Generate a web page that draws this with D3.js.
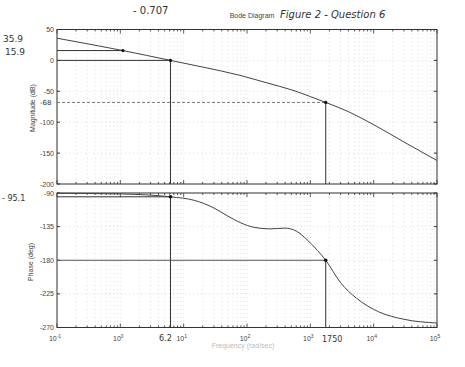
<!DOCTYPE html>
<html><head><meta charset="utf-8">
<script src="https://cdn.jsdelivr.net/npm/d3@7"></script>
<style>body{margin:0;background:#fff}svg{display:block}</style>
</head><body>
<svg id="c" width="465" height="367"></svg>
<script>
// ---- data ----
const magFreq = [0.1, 1.1, 6.2, 20, 77.6, 200, 532, 1000, 1750, 4000, 10000, 30000, 100000];
const magDB   = [35.9, 15.9, 0, -10.8, -24.2, -36, -48.4, -58.5, -68, -83, -104, -132, -162];
const phFreq  = [0.1, 1, 6.2, 15, 30, 50, 80, 130, 230, 400, 600, 900, 1300, 1750, 3000, 5400, 12000, 30000, 100000];
const phDeg   = [-90.4, -91.3, -95.1, -100, -110, -121, -130, -136, -138, -137, -141, -153, -167, -180, -210, -231, -249, -259, -264];
const magTicks = [50, 0, -50, -100, -150, -200];
const phTicks = [-90, -135, -180, -225, -270];
const xDecades = [-1, 0, 1, 2, 3, 4, 5];
const marksMag = [{f:1.1, v:15.9}, {f:6.2, v:0}, {f:1750, v:-68}];
const marksPh = [{f:6.2, v:-95.1}, {f:1750, v:-180}];

const svg = d3.select("#c");
const L = 57, R = 437;
const x = d3.scaleLog().domain([0.1, 1e5]).range([L, R]);
const yM = d3.scaleLinear().domain([-200, 50]).range([184, 29.5]);
const yP = d3.scaleLinear().domain([-270, -90]).range([327.5, 193]);
const ink = "#333";

function panel(y, ticks) {
  const g = svg.append("g");
  const [y0, y1] = y.range();
  const minors = [];
  for (let d = -1; d < 5; d++) for (let k = 1; k <= 9; k++) minors.push(k * Math.pow(10, d));
  minors.push(1e5);
  g.selectAll(".gx").data(minors).join("line")
    .attr("x1", d => x(d)).attr("x2", d => x(d)).attr("y1", y1).attr("y2", y0)
    .attr("stroke", "#c8c8c8").attr("stroke-width", 0.6).attr("stroke-dasharray", "1,3");
  g.selectAll(".gy").data(ticks).join("line")
    .attr("x1", L).attr("x2", R).attr("y1", d => y(d)).attr("y2", d => y(d))
    .attr("stroke", "#c8c8c8").attr("stroke-width", 0.6).attr("stroke-dasharray", "1,3");
  g.append("rect").attr("x", L).attr("y", y1).attr("width", R - L).attr("height", y0 - y1)
    .attr("fill", "none").attr("stroke", ink).attr("stroke-width", 1);
  ticks.forEach(t => {
    g.append("line").attr("x1", L).attr("x2", L + 3).attr("y1", y(t)).attr("y2", y(t)).attr("stroke", ink);
    g.append("line").attr("x1", R - 3).attr("x2", R).attr("y1", y(t)).attr("y2", y(t)).attr("stroke", ink);
    g.append("text").attr("x", L - 3).attr("y", y(t) + 2.5).attr("text-anchor", "end")
      .attr("font-family", "Liberation Sans, Arial, sans-serif").attr("font-size", 7).attr("fill", "#444").text(t);
  });
  minors.forEach(m => {
    const major = Math.abs(Math.log10(m) - Math.round(Math.log10(m))) < 1e-9;
    const len = major ? 4 : 2;
    g.append("line").attr("x1", x(m)).attr("x2", x(m)).attr("y1", y0).attr("y2", y0 - len).attr("stroke", ink).attr("stroke-width", 0.8);
    g.append("line").attr("x1", x(m)).attr("x2", x(m)).attr("y1", y1).attr("y2", y1 + len).attr("stroke", ink).attr("stroke-width", 0.8);
  });
  return g;
}

const gM = panel(yM, magTicks);
const gP = panel(yP, phTicks);

const magLine = d3.line().x(d => x(d[0])).y(d => yM(d[1])).curve(d3.curveMonotoneX);
const phLine = d3.line().x(d => x(d[0])).y(d => yP(d[1])).curve(d3.curveMonotoneX);

gM.append("line").attr("x1", L).attr("x2", x(1.1)).attr("y1", yM(15.9)).attr("y2", yM(15.9)).attr("stroke", ink);
gM.append("line").attr("x1", L).attr("x2", x(6.2)).attr("y1", yM(0)).attr("y2", yM(0)).attr("stroke", ink);
gM.append("line").attr("x1", x(6.2)).attr("x2", x(6.2)).attr("y1", yM(0)).attr("y2", yM(-200)).attr("stroke", ink);
gM.append("line").attr("x1", L).attr("x2", x(1750)).attr("y1", yM(-68)).attr("y2", yM(-68))
  .attr("stroke", "#555").attr("stroke-dasharray", "3,2").attr("stroke-width", 0.8);
gM.append("line").attr("x1", x(1750)).attr("x2", x(1750)).attr("y1", yM(-68)).attr("y2", yM(-200)).attr("stroke", ink);

gP.append("line").attr("x1", L).attr("x2", x(6.2)).attr("y1", yP(-95.1)).attr("y2", yP(-95.1)).attr("stroke", ink);
gP.append("line").attr("x1", x(6.2)).attr("x2", x(6.2)).attr("y1", yP(-95.1)).attr("y2", yP(-270)).attr("stroke", ink);
gP.append("line").attr("x1", L).attr("x2", x(1750)).attr("y1", yP(-180)).attr("y2", yP(-180)).attr("stroke", "#555");
gP.append("line").attr("x1", x(1750)).attr("x2", x(1750)).attr("y1", yP(-180)).attr("y2", yP(-270)).attr("stroke", ink);

gM.append("path").datum(magFreq.map((f, i) => [f, magDB[i]])).attr("d", magLine)
  .attr("fill", "none").attr("stroke", "#444").attr("stroke-width", 1);
gP.append("path").datum(phFreq.map((f, i) => [f, phDeg[i]])).attr("d", phLine)
  .attr("fill", "none").attr("stroke", "#444").attr("stroke-width", 1);

gM.selectAll(".m").data(marksMag).join("circle").attr("cx", d => x(d.f)).attr("cy", d => yM(d.v)).attr("r", 1.6).attr("fill", "#111");
gP.selectAll(".m").data(marksPh).join("circle").attr("cx", d => x(d.f)).attr("cy", d => yP(d.v)).attr("r", 1.8).attr("fill", "#111");

const xl = svg.append("g").attr("font-family", "Liberation Sans, Arial, sans-serif").attr("fill", "#444");
xDecades.forEach(e => {
  const t = xl.append("text").attr("x", x(Math.pow(10, e)) - 2).attr("y", 341).attr("text-anchor", "middle").attr("font-size", 7);
  t.append("tspan").text("10");
  t.append("tspan").attr("dy", -3).attr("font-size", 5).text(e);
});

const lab = svg.append("g").attr("font-family", "Liberation Sans, Arial, sans-serif").attr("fill", "#444").attr("font-size", 7);
lab.append("text").attr("transform", "translate(35,108) rotate(-90)").attr("text-anchor", "middle").text("Magnitude (dB)");
lab.append("text").attr("transform", "translate(33,262) rotate(-90)").attr("text-anchor", "middle").text("Phase (deg)");
lab.append("text").attr("x", 243).attr("y", 348).attr("text-anchor", "middle").attr("fill", "#bbb").text("Frequency (rad/sec)");
lab.append("text").attr("x", 252).attr("y", 18).attr("text-anchor", "middle").text("Bode Diagram");

const hw = svg.append("g").attr("font-family", "DejaVu Sans, sans-serif").attr("fill", "#333");
hw.append("text").attr("x", 133).attr("y", 14).attr("font-size", 10).text("- 0.707");
hw.append("text").attr("x", 280).attr("y", 18).attr("font-size", 10).attr("font-style", "italic").text("Figure 2 - Question 6");
hw.append("text").attr("x", 3).attr("y", 42).attr("font-size", 9).text("35.9");
hw.append("text").attr("x", 5).attr("y", 55).attr("font-size", 9).text("15.9");
hw.append("text").attr("x", 40).attr("y", 105).attr("font-size", 7).text("-68");
hw.append("text").attr("x", 2).attr("y", 201).attr("font-size", 8).text("- 95.1");
hw.append("text").attr("x", 159).attr("y", 341).attr("font-size", 8).text("6.2");
hw.append("text").attr("x", 322).attr("y", 342).attr("font-size", 8).text("1750");
</script>
</body></html>
